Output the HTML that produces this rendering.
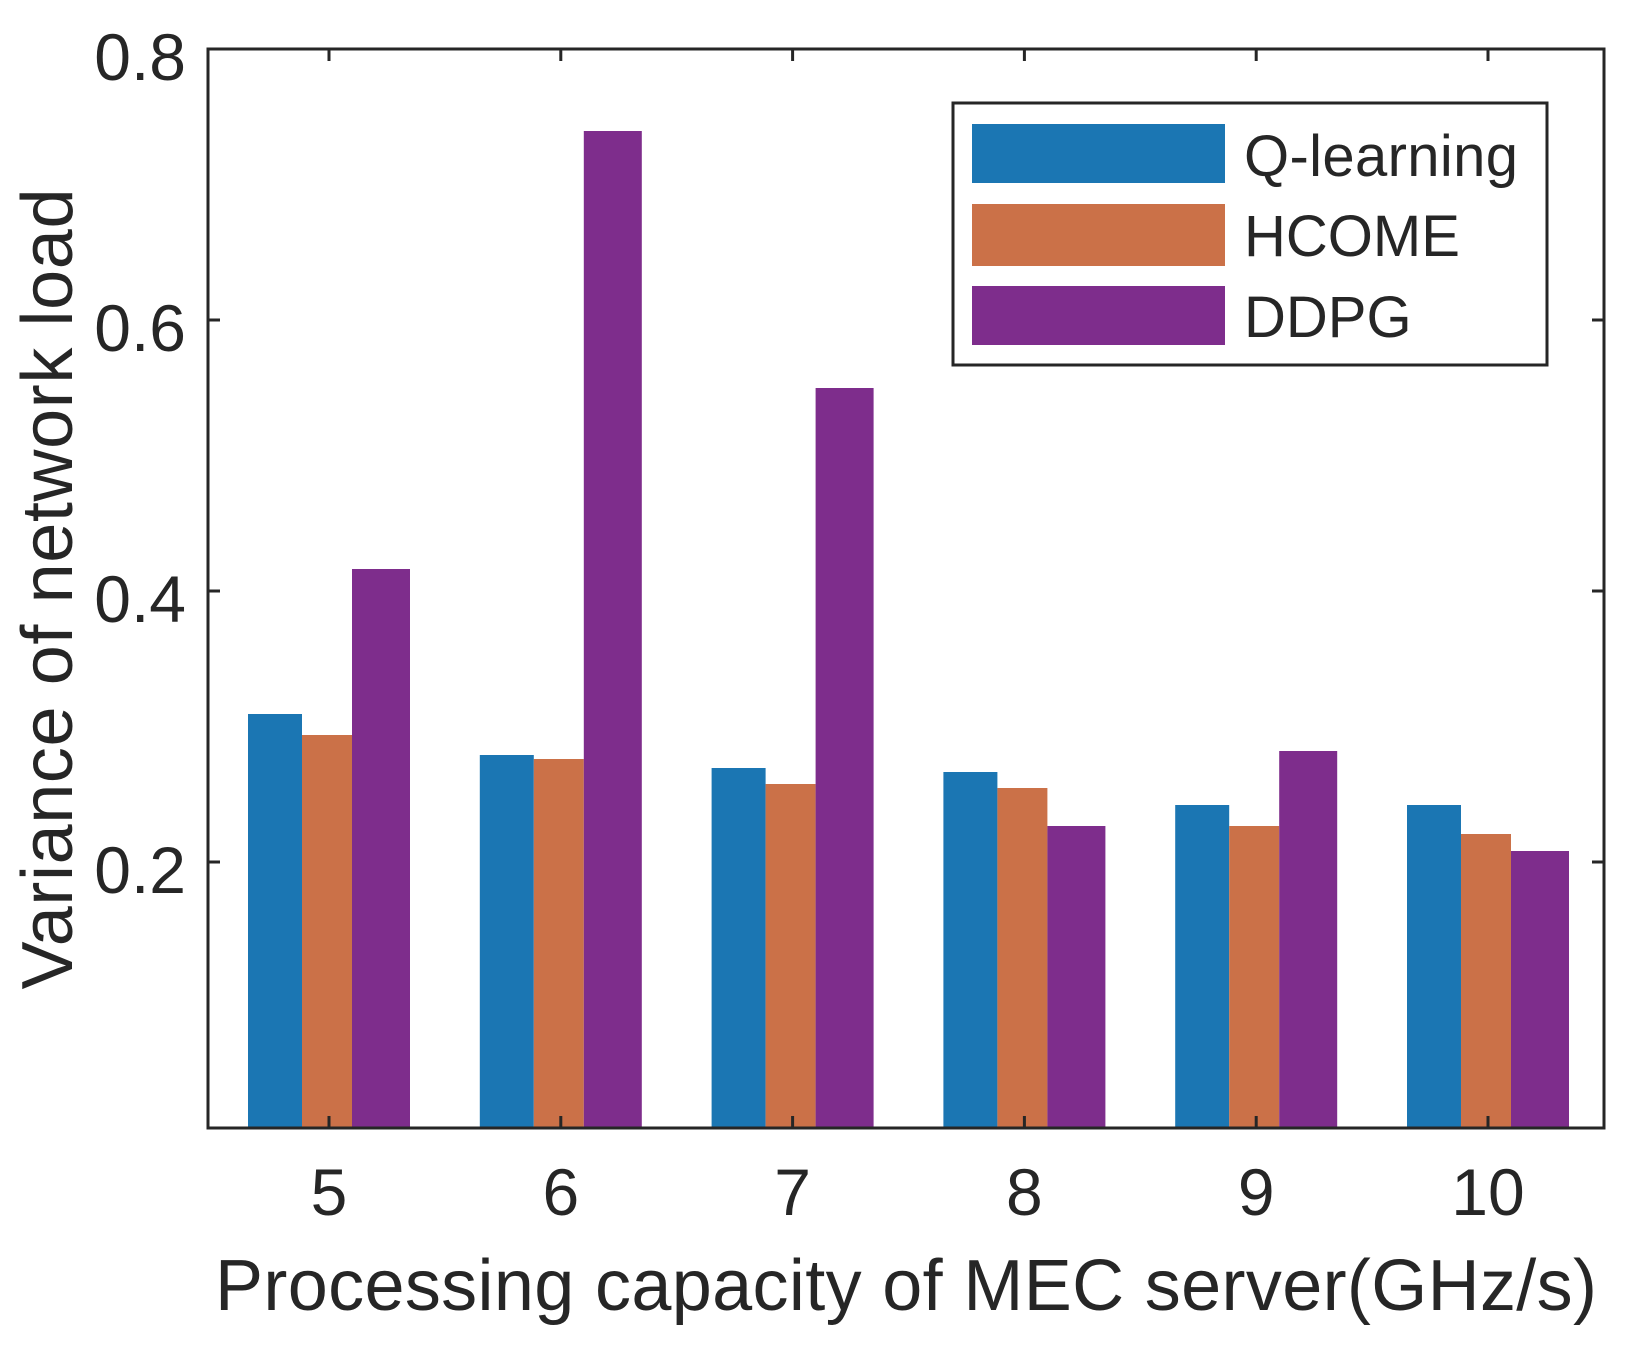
<!DOCTYPE html>
<html><head><style>body{margin:0;background:#fff}</style></head><body>
<svg width="1644" height="1350" xmlns="http://www.w3.org/2000/svg" font-family="Liberation Sans, sans-serif" fill="#262626">
<g>
<rect x="248" y="714" width="54" height="414" fill="#1b76b3"/><rect x="302" y="735" width="50" height="393" fill="#cb7148"/><rect x="352" y="569" width="58" height="559" fill="#7e2d8c"/>
<rect x="479.8" y="755" width="54" height="373" fill="#1b76b3"/><rect x="533.8" y="759" width="50" height="369" fill="#cb7148"/><rect x="583.8" y="131" width="58" height="997" fill="#7e2d8c"/>
<rect x="711.6" y="768" width="54" height="360" fill="#1b76b3"/><rect x="765.6" y="784" width="50" height="344" fill="#cb7148"/><rect x="815.6" y="388" width="58" height="740" fill="#7e2d8c"/>
<rect x="943.4" y="772" width="54" height="356" fill="#1b76b3"/><rect x="997.4" y="788" width="50" height="340" fill="#cb7148"/><rect x="1047.4" y="826" width="58" height="302" fill="#7e2d8c"/>
<rect x="1175.2" y="805" width="54" height="323" fill="#1b76b3"/><rect x="1229.2" y="826" width="50" height="302" fill="#cb7148"/><rect x="1279.2" y="751" width="58" height="377" fill="#7e2d8c"/>
<rect x="1407" y="805" width="54" height="323" fill="#1b76b3"/><rect x="1461" y="834" width="50" height="294" fill="#cb7148"/><rect x="1511" y="851" width="58" height="277" fill="#7e2d8c"/>
</g>
<g stroke="#262626" stroke-width="3">
<path d="M329 1128v-12M560.8 1128v-12M792.6 1128v-12M1024.4 1128v-12M1256.2 1128v-12M1488 1128v-12"/>
<path d="M329 49v12M560.8 49v12M792.6 49v12M1024.4 49v12M1256.2 49v12M1488 49v12"/>
<path d="M208 862h12M208 591h12M208 320h12M1604 862h-12M1604 591h-12M1604 320h-12"/>
</g>
<g font-size="66" text-anchor="middle">
<text x="329" y="1215">5</text><text x="560.8" y="1215">6</text><text x="792.6" y="1215">7</text><text x="1024.4" y="1215">8</text><text x="1256.2" y="1215">9</text><text x="1488" y="1215">10</text>
</g>
<g font-size="66" text-anchor="end">
<text x="186" y="80">0.8</text><text x="186" y="351">0.6</text><text x="186" y="622">0.4</text><text x="186" y="893">0.2</text>
</g>
<rect x="208" y="49" width="1396" height="1079" fill="none" stroke="#262626" stroke-width="3"/>
<rect x="953" y="103" width="594" height="262" fill="#fff" stroke="#262626" stroke-width="3"/>
<rect x="972" y="124" width="253" height="59" fill="#1b76b3"/>
<rect x="972" y="204" width="253" height="62" fill="#cb7148"/>
<rect x="972" y="286" width="253" height="59" fill="#7e2d8c"/>
<text x="1244" y="176" font-size="58" textLength="274">Q-learning</text>
<text x="1244" y="256" font-size="58">HCOME</text>
<text x="1244" y="337" font-size="58">DDPG</text>
<text x="906" y="1310" font-size="72" text-anchor="middle" textLength="1382">Processing capacity of MEC server(GHz/s)</text>
<text transform="translate(72,589) rotate(-90)" font-size="72" text-anchor="middle" textLength="801">Variance of network load</text>
</svg>
</body></html>
